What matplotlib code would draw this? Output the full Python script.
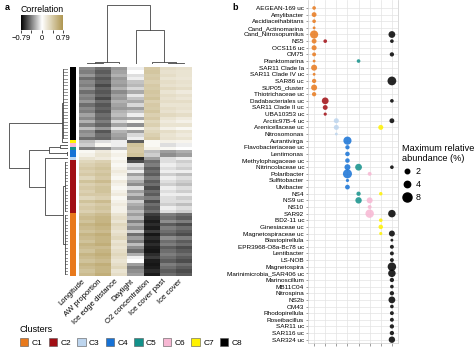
import numpy as np
import matplotlib
matplotlib.use('Agg')
import matplotlib.pyplot as plt
from matplotlib.colors import LinearSegmentedColormap, ListedColormap, Normalize
from matplotlib.cm import ScalarMappable
from matplotlib.patches import Patch
from matplotlib.lines import Line2D

plt.rcParams['font.family'] = ['Liberation Sans', 'DejaVu Sans']

# ---------------- panel a : correlation heatmap ----------------
variables = ['Longitude', 'AW proportion', 'Ice edge distance', 'Daylight',
             'O2 concentration', 'Ice cover past', 'Ice cover']
clusters = ['C1', 'C2', 'C3', 'C4', 'C5', 'C6', 'C7', 'C8']
cluster_colors = ['#E8791C', '#A10E14', '#BDD5EE', '#1672D6', '#12918A',
                  '#F7B7D3', '#FFF200', '#000000']

# heatmap rows (top -> bottom), one block per cluster
corr_C8 = [[-0.36, -0.45, -0.32, -0.05, 0.40, 0.25, 0.22],
           [-0.40, -0.50, -0.28, 0.00, 0.42, 0.22, 0.20],
           [-0.32, -0.45, -0.24, -0.10, 0.38, 0.25, 0.20],
           [-0.45, -0.52, -0.32, -0.05, 0.40, 0.20, 0.18],
           [-0.36, -0.48, -0.28, -0.18, 0.35, 0.25, 0.22],
           [-0.40, -0.56, -0.32, -0.22, 0.40, 0.22, 0.20],
           [-0.32, -0.48, -0.24, -0.12, 0.38, 0.28, 0.25],
           [-0.45, -0.52, -0.36, -0.26, 0.42, 0.20, 0.15],
           [-0.36, -0.48, -0.28, -0.08, 0.40, 0.25, 0.22],
           [-0.40, -0.56, -0.32, -0.18, 0.45, 0.22, 0.18],
           [-0.32, -0.45, -0.24, -0.26, 0.35, 0.25, 0.25],
           [-0.45, -0.52, -0.28, -0.12, 0.40, 0.20, 0.20],
           [-0.36, -0.48, -0.32, -0.30, 0.38, 0.25, 0.22],
           [-0.40, -0.52, -0.24, -0.18, 0.42, 0.22, 0.18],
           [-0.28, -0.45, -0.20, -0.05, 0.35, 0.28, 0.25],
           [-0.36, -0.48, -0.28, -0.26, 0.40, 0.20, 0.15],
           [-0.24, -0.40, -0.12, 0.05, 0.30, 0.15, 0.10],
           [-0.40, -0.48, -0.28, -0.34, 0.35, 0.20, 0.20],
           [-0.20, -0.32, -0.08, 0.05, 0.25, 0.10, 0.05],
           [-0.36, -0.52, -0.24, -0.30, 0.30, 0.25, 0.20],
           [-0.32, -0.45, -0.28, -0.12, 0.35, 0.20, 0.15],
           [-0.45, -0.48, -0.32, -0.05, 0.40, 0.22, 0.20]]
corr_C7 = [[-0.20, -0.10, -0.05, -0.50, 0.05, 0.10, 0.08]]
corr_C6 = [[-0.15, 0.05, -0.05, 0.45, 0.05, -0.10, -0.05]]
corr_C5 = [[-0.40, -0.35, -0.20, 0.40, 0.10, 0.05, 0.00]]
corr_C4 = [[0.05, 0.15, 0.05, 0.40, -0.20, -0.30, -0.25],
           [0.10, 0.20, 0.10, 0.45, -0.15, -0.35, -0.30]]
corr_C3 = [[0.20, 0.15, 0.05, -0.65, -0.30, -0.10, -0.05]]
corr_C2 = [[0.30, 0.35, 0.10, -0.55, -0.45, -0.10, -0.15],
           [0.35, 0.40, 0.05, -0.10, -0.40, -0.05, -0.10],
           [0.40, 0.45, 0.10, -0.20, -0.50, -0.10, -0.15],
           [0.35, 0.40, 0.15, -0.05, -0.45, -0.05, -0.05],
           [0.40, 0.45, 0.10, -0.30, -0.50, -0.15, -0.20],
           [0.30, 0.40, 0.05, -0.15, -0.40, -0.05, -0.10],
           [0.45, 0.50, 0.15, -0.25, -0.50, -0.10, -0.15],
           [0.35, 0.40, 0.10, -0.35, -0.45, -0.15, -0.20],
           [0.40, 0.45, 0.05, -0.10, -0.55, -0.05, -0.10],
           [0.35, 0.45, 0.10, -0.30, -0.45, -0.10, -0.15],
           [0.40, 0.40, 0.15, -0.20, -0.50, -0.05, -0.05],
           [0.30, 0.35, 0.05, -0.35, -0.40, -0.10, -0.15],
           [0.45, 0.50, 0.10, -0.15, -0.55, -0.10, -0.10],
           [0.35, 0.40, 0.15, -0.25, -0.45, -0.15, -0.20],
           [0.40, 0.45, 0.10, -0.30, -0.50, -0.05, -0.10],
           [0.35, 0.40, 0.10, -0.20, -0.45, -0.10, -0.15]]
corr_C1 = [[0.45, 0.50, 0.20, -0.30, -0.60, -0.40, -0.45],
           [0.50, 0.55, 0.25, -0.20, -0.65, -0.45, -0.50],
           [0.45, 0.55, 0.20, -0.40, -0.70, -0.35, -0.40],
           [0.55, 0.60, 0.30, -0.25, -0.65, -0.50, -0.55],
           [0.50, 0.55, 0.25, -0.35, -0.70, -0.40, -0.45],
           [0.45, 0.50, 0.20, -0.15, -0.60, -0.45, -0.50],
           [0.55, 0.60, 0.25, -0.45, -0.72, -0.50, -0.55],
           [0.50, 0.55, 0.30, -0.30, -0.65, -0.35, -0.40],
           [0.45, 0.55, 0.20, -0.40, -0.70, -0.45, -0.50],
           [0.55, 0.60, 0.25, -0.20, -0.65, -0.40, -0.45],
           [0.50, 0.50, 0.20, -0.35, -0.70, -0.50, -0.55],
           [0.45, 0.55, 0.25, -0.45, -0.72, -0.45, -0.50],
           [0.55, 0.60, 0.30, -0.25, -0.65, -0.40, -0.45],
           [0.50, 0.55, 0.25, -0.05, -0.60, -0.45, -0.50],
           [0.45, 0.50, 0.20, 0.00, -0.70, -0.50, -0.55],
           [0.55, 0.60, 0.25, -0.30, -0.72, -0.40, -0.45],
           [0.50, 0.55, 0.30, -0.40, -0.70, -0.45, -0.50],
           [0.45, 0.55, 0.20, -0.35, -0.65, -0.50, -0.55],
           [0.50, 0.60, 0.25, -0.30, -0.70, -0.45, -0.50]]
row_blocks = [('C8', corr_C8), ('C7', corr_C7), ('C6', corr_C6), ('C5', corr_C5),
              ('C4', corr_C4), ('C3', corr_C3), ('C2', corr_C2), ('C1', corr_C1)]

# dendrograms: (height, left, right); leaves are column index / cluster name
col_tree = (59, (2, (1, 0, 1), 2), (34, 3, (2, 4, (1, 5, 6))))
row_tree = (59, (6, 'C8', 'C7'),
            (39, (19, (8, 'C6', 'C5'), 'C4'), (23, 'C3', (5, 'C2', 'C1'))))
inner_height = {'C8': 5, 'C4': 1.5, 'C2': 3, 'C1': 3}

# ---------------- panel b : dot plot ----------------
taxa = ['AEGEAN-169 uc', 'Amylibacter', 'Ascidiaceihabitans', 'Cand_Actinomarina',
        'Cand_Nitrosopumilus', 'NS5', 'OCS116 uc', 'OM75', 'Planktomarina',
        'SAR11 Clade Ia', 'SAR11 Clade IV uc', 'SAR86 uc', 'SUP05_cluster',
        'Thiotrichaceae uc', 'Dadabacteriales uc', 'SAR11 Clade II uc', 'UBA10353 uc',
        'Arctic97B-4 uc', 'Arenicellaceae uc', 'Nitrosomonas', 'Aurantivirga',
        'Flavobacteriaceae uc', 'Lentimonas', 'Methylophagaceae uc', 'Nitrincolaceae uc',
        'Polaribacter', 'Sulfitobacter', 'Ulvibacter', 'NS4', 'NS9 uc', 'NS10', 'SAR92',
        'BD2-11 uc', 'Ginesiaceae uc', 'Magnetospiraceae uc', 'Blastopirellula',
        'EPR3968-O8a-Bc78 uc', 'Lentibacter', 'LS-NOB', 'Magnetospira',
        'Marinimicrobia_SAR406 uc', 'Marinoscillum', 'MB11C04', 'Nitrospina', 'NS2b',
        'OM43', 'Rhodopirellula', 'Roseibacillus', 'SAR11 uc', 'SAR116 uc', 'SAR324 uc']

abund_C1 = {'AEGEAN-169 uc': 1.3, 'Amylibacter': 2.3, 'Ascidiaceihabitans': 1.3,
            'Cand_Actinomarina': 0.8, 'Cand_Nitrosopumilus': 6.5, 'NS5': 2.3,
            'OCS116 uc': 2.5, 'OM75': 1.5, 'Planktomarina': 0.8, 'SAR11 Clade Ia': 3.5,
            'SAR11 Clade IV uc': 0.8, 'SAR86 uc': 1.8, 'SUP05_cluster': 3.5,
            'Thiotrichaceae uc': 1.8}
abund_C2 = {'NS5': 1.3, 'Dadabacteriales uc': 4.5, 'SAR11 Clade II uc': 2.3,
            'UBA10353 uc': 1.0}
abund_C3 = {'Arctic97B-4 uc': 2.5, 'Arenicellaceae uc': 2.5, 'Nitrosomonas': 0.8}
abund_C4 = {'Aurantivirga': 6.5, 'Flavobacteriaceae uc': 1.8, 'Lentimonas': 2.0,
            'Methylophagaceae uc': 2.0, 'Nitrincolaceae uc': 3.5, 'Polaribacter': 8.0,
            'Sulfitobacter': 1.0, 'Ulvibacter': 2.2}
abund_C5 = {'Planktomarina': 1.3, 'Nitrincolaceae uc': 4.5, 'NS4': 1.8, 'NS9 uc': 4.0}
abund_C6 = {'Polaribacter': 1.5, 'NS9 uc': 3.5, 'NS10': 1.5, 'SAR92': 7.0}
abund_C7 = {'Arenicellaceae uc': 2.5, 'NS4': 1.2, 'BD2-11 uc': 1.3,
            'Ginesiaceae uc': 2.0, 'Magnetospiraceae uc': 1.0}
abund_C8 = {'Cand_Nitrosopumilus': 4.5, 'NS5': 1.3, 'OM75': 1.8, 'SAR86 uc': 7.5,
            'Dadabacteriales uc': 1.3, 'Arctic97B-4 uc': 2.3, 'Nitrincolaceae uc': 1.3,
            'SAR92': 5.5, 'Magnetospiraceae uc': 3.5, 'Blastopirellula': 0.8,
            'EPR3968-O8a-Bc78 uc': 1.5, 'Lentibacter': 1.5, 'LS-NOB': 1.5,
            'Magnetospira': 7.0, 'Marinimicrobia_SAR406 uc': 5.5, 'Marinoscillum': 1.8,
            'MB11C04': 1.3, 'Nitrospina': 1.8, 'NS2b': 4.5, 'OM43': 1.3,
            'Rhodopirellula': 1.5, 'Roseibacillus': 1.5, 'SAR11 uc': 1.8,
            'SAR116 uc': 1.8, 'SAR324 uc': 4.0}
abund = [abund_C1, abund_C2, abund_C3, abund_C4, abund_C5, abund_C6, abund_C7, abund_C8]
legend_sizes = [2, 4, 8]

# ---------------- layout helpers ----------------
W, H = 474, 355


def box(x0, y0, x1, y1):
    return [x0 / W, 1 - y1 / H, (x1 - x0) / W, (y1 - y0) / H]


def size_of(v):
    return 5.3 * v


def draw_tree(ax, node, leaf_pos, top):
    if not isinstance(node, tuple):
        return leaf_pos[node]
    h, left, right = node
    lp, lh = draw_tree(ax, left, leaf_pos, top)
    rp, rh = draw_tree(ax, right, leaf_pos, top)
    pos = [lp, lp, rp, rp]
    hts = [lh, h, h, rh]
    if top:
        ax.plot(pos, hts, color='#444444', lw=0.6)
    else:
        ax.plot(hts, pos, color='#444444', lw=0.6)
    return (lp + rp) / 2, h


fig = plt.figure(figsize=(4.74, 3.55), dpi=100)

cmap = LinearSegmentedColormap.from_list('corr', ['#000000', '#FFFFFF', '#AE9650'])
norm = Normalize(-0.79, 0.79)

data = np.array([r for _, blk in row_blocks for r in blk])
n_rows = len(data)

# heatmap
ax_h = fig.add_axes(box(79, 67, 192, 276))
ax_h.imshow(data, cmap=cmap, norm=norm, aspect='auto', interpolation='nearest')
ax_h.set_yticks([])
ax_h.set_xticks(range(len(variables)))
ax_h.set_xticklabels(variables, rotation=45, ha='right', va='top', fontsize=5.6)
ax_h.tick_params(axis='x', length=0, pad=1.5)
for s in ax_h.spines.values():
    s.set_visible(False)

# cluster strip
ax_s = fig.add_axes(box(70, 67, 76, 276))
strip_idx = [clusters.index(name) for name, blk in row_blocks for _ in blk]
ax_s.imshow(np.array(strip_idx)[:, None], cmap=ListedColormap(cluster_colors),
            vmin=-0.5, vmax=7.5, aspect='auto', interpolation='nearest')
ax_s.axis('off')

# column dendrogram
ax_cd = fig.add_axes(box(79, 3, 192, 64))
draw_tree(ax_cd, col_tree, {i: (i, 0) for i in range(len(variables))}, True)
ax_cd.set_xlim(-0.5, len(variables) - 0.5)
ax_cd.set_ylim(0, 61)
ax_cd.axis('off')

# row dendrogram
ax_rd = fig.add_axes(box(8, 67, 68, 276))
leaf_pos = {}
start = 0
for name, blk in row_blocks:
    rows = np.arange(start, start + len(blk))
    hin = inner_height.get(name, 0)
    if len(blk) > 1:
        for r in rows:
            ax_rd.plot([0, hin], [r, r], color='#444444', lw=0.4)
        ax_rd.plot([hin, hin], [rows[0], rows[-1]], color='#444444', lw=0.6)
    leaf_pos[name] = (rows.mean(), hin)
    start += len(blk)
draw_tree(ax_rd, row_tree, leaf_pos, False)
ax_rd.set_xlim(60, 0)
ax_rd.set_ylim(n_rows - 0.5, -0.5)
ax_rd.axis('off')

# colour key
ax_cb = fig.add_axes(box(21, 15, 63, 30))
cb = fig.colorbar(ScalarMappable(norm=norm, cmap=cmap), cax=ax_cb, orientation='horizontal')
cb.set_ticks([-0.79, 0, 0.79])
cb.set_ticklabels(['\u22120.79', '0', '0.79'])
cb.ax.xaxis.set_ticks([-0.4, 0.4], minor=True)
cb.ax.tick_params(which='both', length=2, width=0.5, labelsize=5.5, pad=1.5)
cb.outline.set_visible(False)
ax_cb.set_title('Correlation', fontsize=6.3, pad=2)

# cluster legend
handles = [Patch(facecolor=c, edgecolor='#555555', linewidth=0.4) for c in cluster_colors]
fig.legend(handles, clusters, ncol=8, loc='upper left', bbox_to_anchor=(20 / W, 1 - 325 / H),
           frameon=False, title='Clusters', alignment='left', fontsize=6, title_fontsize=6.5,
           handlelength=1.0, handleheight=1.0, handletextpad=0.4, columnspacing=0.75,
           borderpad=0, borderaxespad=0)

fig.text(5 / W, 1 - 8 / H, 'a', fontsize=6.5, fontweight='bold', va='center')
fig.text(232 / W, 1 - 8 / H, 'b', fontsize=6.5, fontweight='bold', va='center')

# ---------------- panel b ----------------
ax_b = fig.add_axes(box(308, 0, 398, 343))
for k, d in enumerate(abund):
    ys = [taxa.index(t) for t in d]
    ax_b.scatter([k + 1] * len(ys), ys, s=[size_of(v) for v in d.values()],
                 color=cluster_colors[k], alpha=0.85, linewidths=0, zorder=3)
ax_b.set_xlim(0.45, 8.55)
ax_b.set_ylim(50.5, -1.2)
ax_b.set_xticks(range(1, 9))
ax_b.set_xticklabels([])
ax_b.set_yticks(range(len(taxa)))
ax_b.set_yticklabels(taxa, fontsize=4.6)
ax_b.tick_params(length=1.8, width=0.4, color='#555555', pad=1)
ax_b.grid(True, color='#E3E3E3', lw=0.5)
ax_b.set_axisbelow(True)
for side, s in ax_b.spines.items():
    s.set_color('#CCCCCC')
    s.set_linewidth(0.5)
ax_b.spines['top'].set_visible(False)

size_handles = [Line2D([], [], marker='o', linestyle='', color='black',
                       markersize=np.sqrt(size_of(v))) for v in legend_sizes]
fig.legend(size_handles, [str(v) for v in legend_sizes], loc='upper left',
           bbox_to_anchor=(402 / W, 1 - 144 / H), frameon=False,
           title='Maximum relative\nabundance (%)', alignment='left', fontsize=6.4,
           title_fontsize=6.6, labelspacing=0.45, handletextpad=0.3, handlelength=1.2,
           borderpad=0, borderaxespad=0)

fig.savefig('out.png', dpi=100)
